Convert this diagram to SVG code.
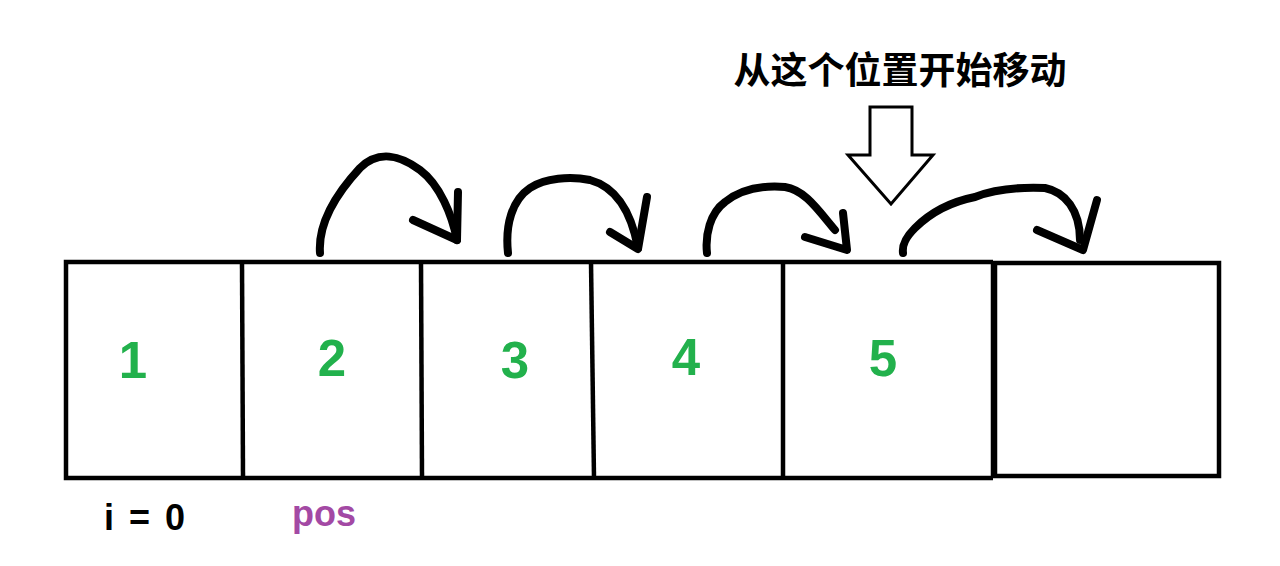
<svg xmlns="http://www.w3.org/2000/svg" width="1280" height="566" viewBox="0 0 1280 566">
<style>
.box{fill:none;stroke:#000;stroke-width:4.5}
.arc{fill:none;stroke:#000;stroke-width:8;stroke-linecap:round;stroke-linejoin:round}
.num{font-family:"Liberation Sans",Arial,sans-serif;font-weight:bold;font-size:51px;fill:#22b14c;text-anchor:middle}
.lbl{font-family:"Liberation Sans",Arial,sans-serif;font-weight:bold;font-size:36px}
.title{font-family:"Noto Sans CJK SC",sans-serif;font-weight:bold;font-size:37px;fill:#000}
</style>
<rect width="1280" height="566" fill="#fff"/>
<g id="array">
<polyline class="box" points="993,478 66,478 66,262 993,262"/>
<line class="box" x1="242" y1="262" x2="243" y2="478"/>
<line class="box" x1="421" y1="262" x2="422" y2="478"/>
<line class="box" x1="591" y1="262" x2="594" y2="478"/>
<line class="box" x1="783" y1="262" x2="783" y2="478"/>
<line class="box" x1="993" y1="262" x2="993" y2="478"/>
<rect class="box" x="995" y="263" width="224" height="213"/>
</g>
<g id="cell1"><text class="num" x="133" y="378">1</text></g>
<g id="cell2"><text class="num" x="332" y="376">2</text></g>
<g id="cell3"><text class="num" x="515" y="378">3</text></g>
<g id="cell4"><text class="num" x="686" y="375">4</text></g>
<g id="cell5"><text class="num" x="883" y="376">5</text></g>
<g id="labels">
<text class="lbl" x="104" y="530" fill="#000" word-spacing="5">i = 0</text>
<text class="lbl" x="292" y="526" fill="#a349a4">pos</text>
</g>
<g id="title"><text class="title" x="900" y="84" text-anchor="middle">从这个位置开始移动</text></g>
<g id="pointer">
<polygon points="870,107 912,107 912,155 933,155 891,204 848,155 870,155" fill="#fff" stroke="#000" stroke-width="3" stroke-linejoin="miter"/>
</g>
<g id="connectors">
<path class="arc" d="M320,253 C318,225 335,195 360,168 C378,150 400,155 420,170 C440,185 452,215 457,240"/>
<path class="arc" d="M413,220 L457,240 L458,192"/>
<path class="arc" d="M508,253 C505,225 512,200 530,188 C545,178 570,176 590,180 C612,186 630,205 638,248"/>
<path class="arc" d="M610,232 L638,249 L647,197"/>
<path class="arc" d="M707,253 C705,235 710,213 725,202 C740,190 760,185 785,187 C805,190 818,210 835,230"/>
<path class="arc" d="M805,237 L847,250 L843,213"/>
<path class="arc" d="M903,253 C902,245 905,238 915,228 C930,213 950,202 975,197 C995,189 1020,187 1045,188 C1065,192 1080,210 1080,240"/>
<path class="arc" d="M1037,230 L1083,250 L1097,200"/>
</g>
</svg>
